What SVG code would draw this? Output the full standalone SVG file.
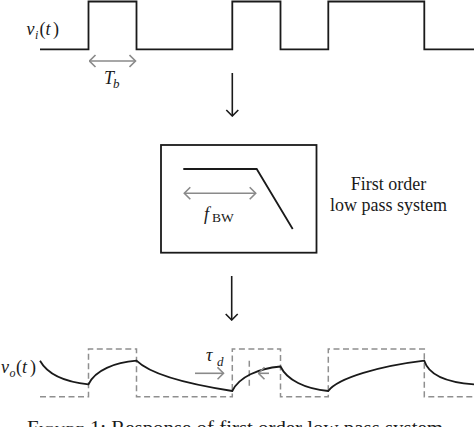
<svg xmlns="http://www.w3.org/2000/svg" width="474" height="427" viewBox="0 0 474 427">
<style>
.sig{fill:none;stroke:#1a1a1a;stroke-width:1.8;stroke-linejoin:miter}
.curve{fill:none;stroke:#1a1a1a;stroke-width:1.8}
.dash{fill:none;stroke:#8f8f8f;stroke-width:1.5;stroke-dasharray:6 3.5}
.garrow{fill:none;stroke:#8a8a8a;stroke-width:1.6}
.barrow{fill:none;stroke:#1a1a1a;stroke-width:1.6}
.math{font-family:"Liberation Serif","DejaVu Serif",serif;font-style:italic;fill:#1a1a1a;font-size:18px}
.up{font-style:normal}
.lbl{font-family:"Liberation Serif","DejaVu Serif",serif;fill:#1a1a1a;font-size:18px}
</style>
<defs>
<marker id="ab" viewBox="-7 -7 8 14" markerWidth="8" markerHeight="14" refX="0" refY="0" orient="auto" markerUnits="userSpaceOnUse">
<path d="M-6,-6 L0,0 L-6,6" fill="none" stroke="#1a1a1a" stroke-width="1.6"/>
</marker>
<marker id="ag" viewBox="-7 -7 8 14" markerWidth="8" markerHeight="14" refX="0" refY="0" orient="auto-start-reverse" markerUnits="userSpaceOnUse">
<path d="M-6,-6 L0,0 L-6,6" fill="none" stroke="#8a8a8a" stroke-width="1.6"/>
</marker>
</defs>

<g id="input-signal">
<path class="sig" d="M40,49.3 H88.5 V1.5 H136.5 V49.3 H232.3 V1.5 H280.5 V49.3 H328.3 V1.5 H424.3 V49.3 H474"/>
<text class="math" x="26.5" y="35">v<tspan x="35" y="39" font-size="12">i</tspan><tspan class="up" x="39.5" y="35">(</tspan><tspan x="45.5" y="35">t</tspan><tspan class="up" x="53" y="35">)</tspan></text>
<line class="garrow" x1="89.5" y1="61" x2="135.5" y2="61" marker-start="url(#ag)" marker-end="url(#ag)"/>
<text class="math" x="104" y="83.5">T<tspan x="113" y="88" font-size="13">b</tspan></text>
</g>

<g id="system">
<rect x="161" y="145" width="155.5" height="107.7" fill="none" stroke="#1a1a1a" stroke-width="1.8"/>
<path class="sig" d="M183.3,169 H256.7 L292.7,229"/>
<line class="garrow" x1="184.3" y1="193.3" x2="255.7" y2="193.3" marker-start="url(#ag)" marker-end="url(#ag)"/>
<text class="math" x="204" y="220" font-size="19">f<tspan class="up" x="212" y="222" font-size="13.5">BW</tspan></text>
</g>

<g id="system-label">
<text class="lbl" x="388.5" y="190" text-anchor="middle">First order</text>
<text class="lbl" x="388.5" y="211" text-anchor="middle">low pass system</text>
</g>

<g id="connectors">
<line class="barrow" x1="232.3" y1="73" x2="232.3" y2="116" marker-end="url(#ab)"/>
<line class="barrow" x1="231.7" y1="276" x2="231.7" y2="320" marker-end="url(#ab)"/>
</g>

<g id="output-signal">
<path class="dash" d="M40,396.7 H88.5 V349 H136.5 V396.7 H232.3 V349 H280.5 V396.7 H328.3 V349 H424.3 V396.7 H474"/>
<line class="dash" x1="249.3" y1="360.7" x2="249.3" y2="388"/>
<path class="curve" d="M40,360.7 C48,375 66,382 88.5,384.3 C95,370 115,362.5 136.5,360.7 C148,372 180,383 232.3,391 C239,377 258,368.5 280.5,366.5 C287,380 305,389 328.3,391 C338,378 380,366 424.3,360.7 C429,376 448,382.5 474,384.3"/>
<line class="garrow" x1="195" y1="373.3" x2="223.5" y2="373.3" marker-end="url(#ag)"/>
<line class="garrow" x1="269" y1="373.3" x2="258.5" y2="373.3" marker-end="url(#ag)"/>
<text class="math" x="206" y="361">τ<tspan x="217" y="365.5" font-size="13">d</tspan></text>
<text class="math" x="1" y="373">v<tspan x="9.5" y="377" font-size="12">o</tspan><tspan class="up" x="16" y="373">(</tspan><tspan x="22" y="373">t</tspan><tspan class="up" x="30" y="373">)</tspan></text>
</g>

<text class="lbl" x="27" y="434" textLength="416" lengthAdjust="spacingAndGlyphs"><tspan font-variant="small-caps">Figure 1</tspan>: Response of first order low pass system</text>
</svg>
